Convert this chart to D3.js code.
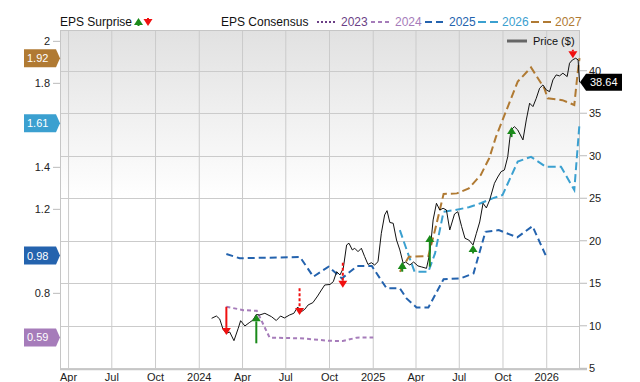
<!DOCTYPE html>
<html>
<head>
<meta charset="utf-8">
<script src="https://cdn.jsdelivr.net/npm/d3@7"></script>
<style>
  body { margin: 0; background: #fff; }
  svg { display: block; font-family: Arial, "Liberation Sans", sans-serif; }
</style>
</head>
<body>
<svg width="640" height="382"></svg>
<script>
// ---- data ----
var eps2023 = [];

var eps2024 = [
  ["2024-02-27", 0.736], ["2024-04-03", 0.72], ["2024-05-01", 0.717], ["2024-05-28", 0.589],
  ["2024-07-31", 0.586], ["2024-10-01", 0.574], ["2024-10-29", 0.573], ["2024-11-27", 0.589],
  ["2025-01-01", 0.59]
];

var eps2025 = [
  ["2024-02-27", 0.987], ["2024-03-26", 0.967], ["2024-07-31", 0.973], ["2024-08-28", 0.879],
  ["2024-09-29", 0.927], ["2024-10-27", 0.871], ["2024-11-28", 0.93], ["2024-12-29", 0.93],
  ["2025-01-29", 0.824], ["2025-02-26", 0.824], ["2025-03-12", 0.776], ["2025-04-02", 0.733],
  ["2025-04-27", 0.733], ["2025-05-29", 0.867], ["2025-07-03", 0.871], ["2025-07-31", 0.895],
  ["2025-08-25", 1.093], ["2025-09-22", 1.101], ["2025-10-31", 1.067], ["2025-12-02", 1.12],
  ["2025-12-30", 0.98]
];

var eps2026 = [
  ["2025-02-26", 1.101], ["2025-03-15", 0.99], ["2025-03-29", 0.903], ["2025-04-27", 0.903],
  ["2025-05-11", 0.99], ["2025-05-29", 1.189], ["2025-06-23", 1.197], ["2025-07-21", 1.21],
  ["2025-08-15", 1.229], ["2025-09-09", 1.252], ["2025-09-30", 1.268], ["2025-11-01", 1.427],
  ["2025-11-29", 1.45], ["2025-12-30", 1.403], ["2026-01-31", 1.403], ["2026-02-28", 1.292],
  ["2026-03-11", 1.61]
];

var eps2027 = [
  ["2025-02-26", 0.903], ["2025-03-17", 0.974], ["2025-04-27", 0.978], ["2025-05-11", 1.101],
  ["2025-05-29", 1.273], ["2025-06-26", 1.276], ["2025-07-21", 1.30], ["2025-08-15", 1.363],
  ["2025-09-02", 1.443], ["2025-09-16", 1.544], ["2025-09-30", 1.625], ["2025-11-01", 1.808],
  ["2025-11-29", 1.876], ["2025-12-27", 1.776], ["2026-01-03", 1.729], ["2026-02-03", 1.72],
  ["2026-02-28", 1.697], ["2026-03-07", 1.848], ["2026-03-11", 1.92]
];

var price = [
  ["2024-01-27", 10.88], ["2024-02-06", 11.15], ["2024-02-13", 10.8], ["2024-02-20", 9.59],
  ["2024-02-27", 9.12], ["2024-03-05", 9.27], ["2024-03-14", 8.25], ["2024-03-23", 9.71],
  ["2024-03-28", 10.6], ["2024-04-06", 9.98], ["2024-04-15", 10.36], ["2024-04-23", 10.68],
  ["2024-04-30", 11.33], ["2024-05-07", 11.27], ["2024-05-18", 11.47], ["2024-06-01", 11.07],
  ["2024-06-11", 10.62], ["2024-06-20", 11.15], ["2024-06-28", 10.92], ["2024-07-09", 11.27],
  ["2024-07-18", 11.47], ["2024-07-26", 12.21], ["2024-08-03", 11.66], ["2024-08-10", 11.94],
  ["2024-08-17", 12.45], ["2024-08-27", 12.72], ["2024-09-06", 13.5], ["2024-09-14", 14.21],
  ["2024-09-21", 14.8], ["2024-10-02", 14.86], ["2024-10-09", 15.19], ["2024-10-16", 16.36],
  ["2024-10-23", 15.98], ["2024-10-30", 16.76], ["2024-11-06", 19.51], ["2024-11-11", 19.71],
  ["2024-11-18", 18.92], ["2024-11-23", 19.12], ["2024-11-30", 18.72], ["2024-12-07", 19.12],
  ["2024-12-14", 18.13], ["2024-12-21", 17.21], ["2024-12-28", 17.42], ["2025-01-04", 17.15],
  ["2025-01-11", 17.54], ["2025-01-18", 20.88], ["2025-01-25", 23.04], ["2025-01-30", 23.54],
  ["2025-02-05", 22.15], ["2025-02-12", 22.06], ["2025-02-19", 20.09], ["2025-02-26", 18.92],
  ["2025-03-05", 17.35], ["2025-03-10", 17.5], ["2025-03-19", 17.15], ["2025-03-27", 17.5],
  ["2025-04-05", 17.04], ["2025-04-13", 16.92], ["2025-04-23", 16.76], ["2025-04-30", 18.53],
  ["2025-05-07", 22.45], ["2025-05-14", 24.41], ["2025-05-21", 23.62], ["2025-05-28", 23.82],
  ["2025-06-04", 23.62], ["2025-06-11", 21.27], ["2025-06-21", 23.15], ["2025-06-28", 23.42],
  ["2025-07-06", 21.66], ["2025-07-13", 20.29], ["2025-07-21", 20.09], ["2025-07-30", 19.51],
  ["2025-08-06", 20.88], ["2025-08-13", 22.21], ["2025-08-20", 24.41], ["2025-08-27", 23.86],
  ["2025-09-03", 24.8], ["2025-09-13", 26.76], ["2025-09-20", 27.5], ["2025-09-27", 28.13],
  ["2025-10-04", 28.33], ["2025-10-11", 29.89], ["2025-10-15", 31.86], ["2025-10-18", 33.04],
  ["2025-10-25", 33.42], ["2025-11-01", 33.04], ["2025-11-12", 31.86], ["2025-11-19", 34.21],
  ["2025-11-26", 36.18], ["2025-12-03", 35.78], ["2025-12-10", 36.76], ["2025-12-17", 37.94],
  ["2025-12-24", 38.33], ["2025-12-31", 37.74], ["2026-01-07", 37.54], ["2026-01-14", 38.92],
  ["2026-01-21", 39.51], ["2026-01-28", 39.39], ["2026-02-04", 39.71], ["2026-02-13", 39.31],
  ["2026-02-18", 40.88], ["2026-02-24", 41.27], ["2026-03-03", 41.47], ["2026-03-08", 41.27],
  ["2026-03-11", 38.64]
];

// surprise arrows: date, consensus -> reported (EPS scale), dotted stem
var surprises = [
  ["2024-02-27", 0.736, 0.602, false],
  ["2024-04-30", 0.562, 0.70, false],
  ["2024-07-30", 0.824, 0.697, true],
  ["2024-10-29", 0.946, 0.827, true],
  ["2025-03-03", 0.903, 0.949, false],
  ["2025-04-30", 0.927, 1.078, false],
  ["2025-07-30", 0.99, 1.03, false],
  ["2025-10-19", 1.544, 1.592, false],
  ["2026-02-25", 1.96, 1.919, false]
];

var epsTicks = [0.6, 0.8, 1, 1.2, 1.4, 1.6, 1.8, 2];
var priceTicks = [5, 10, 15, 20, 25, 30, 35, 40];

var series = [
  { name: "2023", data: eps2023, color: "#6b3f86", dash: "2,2" },
  { name: "2024", data: eps2024, color: "#a67cba", dash: "4,3" },
  { name: "2025", data: eps2025, color: "#2463ae", dash: "7,4" },
  { name: "2026", data: eps2026, color: "#3ba0d0", dash: "8,4" },
  { name: "2027", data: eps2027, color: "#b07a33", dash: "8,4" }
];

function drawChart() {
  var parse = d3.timeParse("%Y-%m-%d");
  var svg = d3.select("svg");
  var plotL = 60, plotR = 580, plotT = 30, plotB = 368.3;

  var x = d3.scaleTime()
    .domain([parse("2023-03-14"), parse("2026-03-12")])
    .range([plotL, plotR]);
  var yEps = d3.scaleLinear().domain([0.443, 2.054]).range([plotB, plotT]);
  var yPrice = d3.scaleLinear().domain([5, 44.79]).range([plotB, plotT]);

  // background gradient
  var defs = svg.append("defs");
  var grad = defs.append("linearGradient").attr("id", "bg")
    .attr("x1", 0).attr("y1", 0).attr("x2", 0).attr("y2", 1);
  grad.append("stop").attr("offset", "0%").attr("stop-color", "#e1e1e1");
  grad.append("stop").attr("offset", "50%").attr("stop-color", "#ffffff");
  grad.append("stop").attr("offset", "100%").attr("stop-color", "#ffffff");

  svg.append("rect")
    .attr("x", plotL).attr("y", plotT)
    .attr("width", plotR - plotL).attr("height", plotB - plotT)
    .attr("fill", "url(#bg)");

  // grid
  var months = x.ticks(d3.timeMonth.every(3));
  svg.append("g").selectAll("line")
    .data(months).enter().append("line")
    .attr("x1", d => x(d)).attr("x2", d => x(d))
    .attr("y1", plotT).attr("y2", plotB)
    .attr("stroke", "#cbcbcb").attr("stroke-width", 1);

  svg.append("g").selectAll("line")
    .data(priceTicks.filter(d => d > 5)).enter().append("line")
    .attr("x1", plotL).attr("x2", plotR)
    .attr("y1", d => Math.round(yPrice(d)) + 0.5).attr("y2", d => Math.round(yPrice(d)) + 0.5)
    .attr("stroke", "#cbcbcb").attr("stroke-width", 1);

  // frame
  svg.append("rect")
    .attr("x", plotL + 0.5).attr("y", plotT + 0.5)
    .attr("width", plotR - plotL - 1).attr("height", plotB - plotT)
    .attr("fill", "none").attr("stroke", "#c6c6c6");
  svg.append("line")
    .attr("x1", plotL).attr("x2", plotR + 7)
    .attr("y1", plotB + 1).attr("y2", plotB + 1)
    .attr("stroke", "#c6c6c6").attr("stroke-width", 2);

  // x axis labels
  var fmtMonth = d3.timeFormat("%b"), fmtYear = d3.timeFormat("%Y");
  svg.append("g").selectAll("text")
    .data(months).enter().append("text")
    .attr("x", d => x(d)).attr("y", 381)
    .attr("text-anchor", "middle")
    .attr("font-size", 11).attr("fill", "#222")
    .text(d => d.getMonth() === 0 ? fmtYear(d) : fmtMonth(d));

  // badges (last value of each series)
  var badgeSeries = series.filter(s => s.data.length);
  var badgeVals = badgeSeries.map(s => s.data[s.data.length - 1][1]);

  // left axis (EPS), skipping ticks hidden by a badge
  var leftTicks = epsTicks.filter(t => badgeVals.every(v => Math.abs(yEps(t) - yEps(v)) > 11));
  var lg = svg.append("g");
  lg.selectAll("line").data(leftTicks).enter().append("line")
    .attr("x1", plotL - 7).attr("x2", plotL)
    .attr("y1", d => yEps(d)).attr("y2", d => yEps(d))
    .attr("stroke", "#bbb");
  lg.selectAll("text").data(leftTicks).enter().append("text")
    .attr("x", plotL - 10).attr("y", d => yEps(d) + 4)
    .attr("text-anchor", "end").attr("font-size", 11).attr("fill", "#222")
    .text(d3.format("~g"));

  // right axis (price)
  var rg = svg.append("g");
  rg.selectAll("line").data(priceTicks).enter().append("line")
    .attr("x1", plotR).attr("x2", plotR + 7)
    .attr("y1", d => yPrice(d)).attr("y2", d => yPrice(d))
    .attr("stroke", "#bbb");
  rg.selectAll("text").data(priceTicks).enter().append("text")
    .attr("x", plotR + 9).attr("y", d => yPrice(d) + 4)
    .attr("font-size", 11).attr("fill", "#222")
    .text(d => d);

  // EPS consensus lines
  var epsLine = d3.line()
    .x(d => x(parse(d[0])))
    .y(d => yEps(d[1]));

  svg.append("g").selectAll("path")
    .data(series.filter(s => s.data.length)).enter().append("path")
    .attr("d", s => epsLine(s.data))
    .attr("fill", "none")
    .attr("stroke", s => s.color)
    .attr("stroke-width", 2)
    .attr("stroke-dasharray", s => s.dash);

  // price line
  var priceLine = d3.line()
    .x(d => x(parse(d[0])))
    .y(d => yPrice(d[1]));
  svg.append("path")
    .attr("d", priceLine(price))
    .attr("fill", "none").attr("stroke", "#111").attr("stroke-width", 1);

  // surprise arrows
  function arrow(g, cx, y0, y1, color, dotted) {
    var dir = y1 < y0 ? -1 : 1; // -1 = pointing up
    var head = 7;
    g.append("line")
      .attr("x1", cx).attr("x2", cx)
      .attr("y1", y0).attr("y2", y1 - dir * head)
      .attr("stroke", color).attr("stroke-width", 2)
      .attr("stroke-dasharray", dotted ? "3,2" : null);
    g.append("path")
      .attr("d", "M" + (cx - 4.5) + "," + (y1 - dir * head) + "L" + (cx + 4.5) + "," + (y1 - dir * head) + "L" + cx + "," + y1 + "Z")
      .attr("fill", color);
  }
  var ag = svg.append("g");
  surprises.forEach(function (s) {
    var up = s[2] > s[1];
    arrow(ag, x(parse(s[0])), yEps(s[1]), yEps(s[2]), up ? "#1a8a1a" : "#f01010", s[3]);
  });

  // EPS badges
  var bg = svg.append("g");
  badgeSeries.forEach(function (s, i) {
    var v = badgeVals[i], cy = yEps(v);
    bg.append("path")
      .attr("d", "M24," + (cy - 9) + "H56L60," + cy + "L56," + (cy + 9) + "H24Z")
      .attr("fill", s.color);
    bg.append("text")
      .attr("x", 27).attr("y", cy + 4)
      .attr("font-size", 11).attr("fill", "#fff")
      .text(d3.format(".2f")(v));
  });

  // price badge
  var lastPrice = price[price.length - 1][1];
  var py = yPrice(lastPrice);
  svg.append("path")
    .attr("d", "M580," + py + "L586," + (py - 8.5) + "H622V" + (py + 8.5) + "H586Z")
    .attr("fill", "#000");
  svg.append("text")
    .attr("x", 590).attr("y", py + 4)
    .attr("font-size", 11).attr("fill", "#fff")
    .text(lastPrice.toFixed(2));

  // price legend inside plot
  svg.append("line")
    .attr("x1", 507).attr("x2", 527).attr("y1", 41).attr("y2", 41)
    .attr("stroke", "#666").attr("stroke-width", 3);
  svg.append("text")
    .attr("x", 533).attr("y", 45)
    .attr("font-size", 11).attr("fill", "#111")
    .text("Price ($)");

  // top legend
  svg.append("text").attr("x", 60).attr("y", 26)
    .attr("font-size", 12).attr("fill", "#111").text("EPS Surprise");
  arrow(svg, 138.5, 26, 18, "#1a8a1a", false);
  arrow(svg, 148, 18, 26, "#f01010", false);

  svg.append("text").attr("x", 221).attr("y", 26)
    .attr("font-size", 12).attr("fill", "#111").text("EPS Consensus");

  var legX = [317, 371, 425, 478, 531];
  series.forEach(function (s, i) {
    svg.append("line")
      .attr("x1", legX[i]).attr("x2", legX[i] + 20)
      .attr("y1", 22).attr("y2", 22)
      .attr("stroke", s.color).attr("stroke-width", 2)
      .attr("stroke-dasharray", s.dash);
    svg.append("text")
      .attr("x", legX[i] + 24).attr("y", 26)
      .attr("font-size", 12).attr("fill", s.color)
      .text(s.name);
  });
}

drawChart();
</script>
</body>
</html>
